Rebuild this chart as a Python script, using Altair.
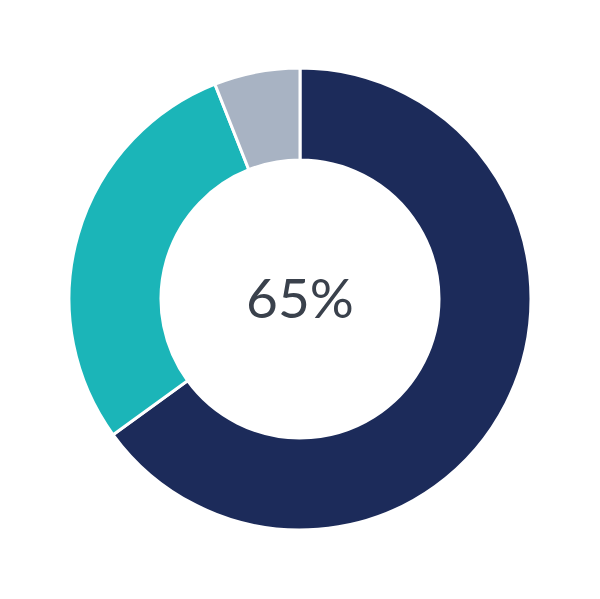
import altair as alt
import pandas as pd

categories = ["A", "B", "C"]
values = [65, 29, 6]
order = [1, 2, 3]
colors = ["#1c2b5a", "#1bb5b8", "#a8b3c3"]
center_label = "65%"

df = pd.DataFrame({"cat": categories, "value": values, "ord": order})

arc = alt.Chart(df).mark_arc(
    outerRadius=231, innerRadius=139, stroke="white", strokeWidth=3
).encode(
    theta=alt.Theta("value:Q", stack=True),
    order=alt.Order("ord:Q"),
    color=alt.Color("cat:N", scale=alt.Scale(domain=categories, range=colors), legend=None),
)

text = alt.Chart(pd.DataFrame({"t": [center_label]})).mark_text(
    font="Lato", fontSize=55, fontWeight="normal", color="#3a414c", baseline="middle", align="center"
).encode(
    text="t:N",
    x=alt.value(292),
    y=alt.value(293),
)

chart = alt.layer(arc, text).properties(
    width=584, height=582, padding=0, background="white"
).configure_view(stroke=None, strokeWidth=0)

chart.save("out.html", embed_options={"renderer": "svg", "actions": False})
